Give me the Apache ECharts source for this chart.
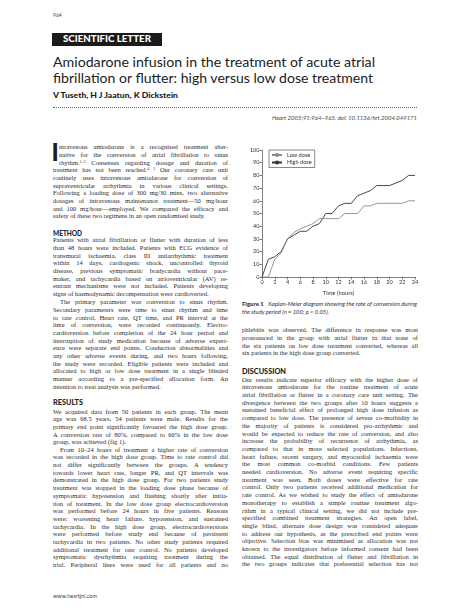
<!DOCTYPE html>
<html>
<head>
<meta charset="utf-8">
<script src="https://cdn.jsdelivr.net/npm/echarts@6/dist/echarts.min.js"></script>
<style>
  html,body{margin:0;padding:0;background:#fff;}
  #page{position:relative;width:474px;height:613px;overflow:hidden;background:#fff;color:#262626;}
  .abs{position:absolute;white-space:nowrap;}
  .sans{font-family:Lato,"Open Sans","DejaVu Sans",sans-serif;}
  .fit{display:inline-block;transform-origin:left center;}
  .l{position:absolute;white-space:nowrap;font-family:"Liberation Serif","DejaVu Serif",serif;font-size:6.5px;height:7.7px;line-height:7.7px;color:#2a2a2a;}
  .l sup{font-size:4px;line-height:0;vertical-align:2px;}
  .h{position:absolute;white-space:nowrap;font-family:Lato,"Open Sans",sans-serif;font-weight:900;font-size:7.4px;line-height:8px;color:#1e1e1e;}
  #chart{position:absolute;left:238px;top:140px;width:182px;height:160px;}
</style>
</head>
<body>
<div id="page">
  <div class="abs sans" style="left:53px;top:12px;font-size:5px;line-height:6px;color:#444;">964</div>
  <div class="abs" style="left:52px;top:33px;width:110px;height:13px;background:#1b1b1b;"></div>
  <div class="abs sans" style="left:63px;top:35px;line-height:9px;font-size:8.6px;font-weight:900;color:#fff;"><span class="fit" data-w="88">SCIENTIFIC LETTER</span></div>
  <div class="abs sans" style="left:53px;top:53px;line-height:17px;font-size:14px;color:#222;"><span class="fit" data-w="322">Amiodarone infusion in the treatment of acute atrial</span></div>
  <div class="abs sans" style="left:53px;top:69px;line-height:17px;font-size:14px;color:#222;"><span class="fit" data-w="320">fibrillation or flutter: high versus low dose treatment</span></div>
  <div class="abs sans" style="left:53px;top:91px;line-height:9px;font-size:7.4px;font-weight:900;color:#222;"><span class="fit" data-w="125">V Tuseth, H J Jaatun, K Dickstein</span></div>
  <div class="abs" style="left:53px;top:106.5px;width:364px;height:0;border-top:1px dotted #666;"></div>
  <div class="abs sans" style="left:272px;top:115px;line-height:6px;font-size:4.8px;font-style:italic;color:#444;"><span class="fit" data-w="145">Heart 2005;91:964–965. doi: 10.1136/hrt.2004.049171</span></div>

  <div class="abs sans" style="left:51.5px;top:138px;font-size:24px;line-height:28px;font-weight:900;color:#1e1e1e;">I</div>

  <div class="h" style="left:53px;top:229.5px;"><span class="fit" data-w="29">METHOD</span></div>
  <div class="h" style="left:53px;top:399px;"><span class="fit" data-w="30">RESULTS</span></div>
  <div class="h" style="left:242px;top:368px;"><span class="fit" data-w="44">DISCUSSION</span></div>

  <div id="chart"></div>

  <div class="abs sans" style="left:242px;top:301px;line-height:6px;font-size:5.2px;color:#333;"><span class="fit" data-w="175"><b style="font-weight:900">Figure 1</b>&nbsp;&nbsp;&nbsp;<i>Kaplan-Meier diagram showing the rate of conversion during</i></span></div>
  <div class="abs sans" style="left:242px;top:308.5px;line-height:6px;font-size:5.2px;color:#333;"><span class="fit" data-w="87"><i>the study period (n = 100; p &lt; 0.05).</i></span></div>

  <div class="abs sans" style="left:53px;top:593px;line-height:6px;font-size:5px;color:#444;"><span class="fit" data-w="44">www.heartjnl.com</span></div>
</div>

<script>
// ---------------- chart data ----------------
const hours     = [0,1,2,3,4,5,6,7,8,9,10,11,12,13,14,15,16,17,18,19,20,21,22,23,24];
const lowDose   = [0,0,14,19,30,35,38,40,42,46,46,46,46,50,50,50,56,56,58,58,58,58,58,60,60];
const highDose  = [0,14,16,20,30,33,36,36,40,42,50,50,56,58,58,64,66,68,72,72,72,74,76,80,80];
const seriesNames = ['Low dose','High dose'];
const xTickStep = 2;
const yTickStep = 10;
const xAxisName = 'Time (hours)';
const yAxisName = '%';

// ---------------- page text ----------------
const LX = 53, LW = 175, RX = 242, RW = 176, LH = 7.7;
const paragraphs = [
  {x:LX, w:LW, y:147, drop:3, lines:[
    'ntravenous amiodarone is a recognised treatment alter-',
    'native for the conversion of atrial fibrillation to sinus',
    'rhythm.<sup>1–3</sup> Consensus regarding dosage and duration of',
    'treatment has not been reached.<sup>4 5</sup> Our coronary care unit',
    'routinely uses intravenous amiodarone for conversion of',
    'supraventricular arrhythmia in various clinical settings.',
    'Following a loading dose of 300 mg/30 mins, two alternative',
    'dosages of intravenous maintenance treatment—50 mg/hour',
    'and 100 mg/hour—employed. We compared the efficacy and',
    'safety of these two regimens in an open randomised study.']},
  {x:LX, w:LW, y:240, lines:[
    'Patients with atrial fibrillation or flutter with duration of less',
    'than 48 hours were included. Patients with ECG evidence of',
    'transmural ischaemia, class III antiarrhythmic treatment',
    'within 14 days, cardiogenic shock, uncontrolled thyroid',
    'disease, previous symptomatic bradycardia without pace-',
    'maker, and tachycardia based on atrioventricular (AV) re-',
    'entrant mechanisms were not included. Patients developing',
    'signs of haemodynamic decompensation were cardioverted.']},
  {x:LX, w:LW, y:302, indent:true, lines:[
    'The primary parameter was conversion to sinus rhythm.',
    'Secondary parameters were time to sinus rhythm and time',
    'to rate control. Heart rate, QT time, and PR interval at the',
    'time of conversion, were recorded continuously. Electro-',
    'cardioversion before completion of the 24 hour period and',
    'interruption of study medication because of adverse experi-',
    'ence were separate end points. Conduction abnormalities and',
    'any other adverse events during, and two hours following,',
    'the study were recorded. Eligible patients were included and',
    'allocated to high or low dose treatment in a single blinded',
    'manner according to a pre-specified allocation form. An',
    'intention to treat analysis was performed.']},
  {x:LX, w:LW, y:411.5, lines:[
    'We acquired data from 50 patients in each group. The mean',
    'age was 68.5 years, 54 patients were male. Results for the',
    'primary end point significantly favoured the high dose group.',
    'A conversion rate of 80%, compared to 60% in the low dose',
    'group, was achieved (fig 1).']},
  {x:LX, w:LW, y:449.5, indent:true, noEnd:true, lines:[
    'From 10–24 hours of treatment a higher rate of conversion',
    'was recorded in the high dose group. Time to rate control did',
    'not differ significantly between the groups. A tendency',
    'towards lower heart rate, longer PR, and QT intervals was',
    'demonstrated in the high dose group. For two patients study',
    'treatment was stopped in the loading dose phase because of',
    'symptomatic hypotension and flushing shortly after initia-',
    'tion of treatment. In the low dose group electrocardioversion',
    'was performed before 24 hours in five patients. Reasons',
    'were: worsening heart failure, hypotension, and sustained',
    'tachycardia. In the high dose group, electrocardioversions',
    'were performed before study end because of persistent',
    'tachycardia in two patients. No other study patients required',
    'additional treatment for rate control. No patients developed',
    'symptomatic dysrhythmia requiring treatment during the',
    'trial. Peripheral lines were used for all patients and no']},
  {x:RX, w:RW, y:330, lines:[
    'phlebitis was observed. The difference in response was most',
    'pronounced in the group with atrial flutter in that none of',
    'the six patients on low dose treatment converted, whereas all',
    'six patients in the high dose group converted.']},
  {x:RX, w:RW, y:379.5, noEnd:true, lines:[
    'Our results indicate superior efficacy with the higher dose of',
    'intravenous amiodarone for the routine treatment of acute',
    'atrial fibrillation or flutter in a coronary care unit setting. The',
    'divergence between the two groups after 10 hours suggests a',
    'sustained beneficial effect of prolonged high dose infusion as',
    'compared to low dose. The presence of severe co-morbidity in',
    'the majority of patients is considered pro-arrhythmic and',
    'would be expected to reduce the rate of conversion, and also',
    'increase the probability of recurrence of arrhythmia, as',
    'compared to that in more selected populations. Infections,',
    'heart failure, recent surgery, and myocardial ischaemia were',
    'the most common co-morbid conditions. Few patients',
    'needed cardioversion. No adverse event requiring specific',
    'treatment was seen. Both doses were effective for rate',
    'control. Only two patients received additional medication for',
    'rate control. As we wished to study the effect of amiodarone',
    'monotherapy to establish a simple routine treatment algo-',
    'rithm in a typical clinical setting, we did not include pre-',
    'specified combined treatment strategies. An open label,',
    'single blind, alternate dose design was considered adequate',
    'to address our hypothesis, as the prescribed end points were',
    'objective. Selection bias was minimised as allocation was not',
    'known to the investigators before informed consent had been',
    'obtained. The equal distribution of flutter and fibrillation in',
    'the two groups indicates that preferential selection has not']}
];

const page = document.getElementById('page');
paragraphs.forEach(p => {
  p.lines.forEach((txt, i) => {
    const d = document.createElement('div');
    d.className = 'l';
    let x = p.x, w = p.w;
    if (p.drop && i < p.drop) { x += 6; w -= 6; }
    if (p.indent && i === 0) { x += 7; w -= 7; }
    d.style.left = x + 'px';
    d.style.top = (p.y + i * LH - LH / 2) + 'px';
    const s = document.createElement('span');
    s.innerHTML = txt;
    d.appendChild(s);
    page.appendChild(d);
    const isLast = (i === p.lines.length - 1) && !p.noEnd;
    const nat = s.getBoundingClientRect().width;
    const plain = s.textContent;
    const spaces = (plain.match(/ /g) || []).length;
    if (nat > w) {
      s.style.letterSpacing = ((w - nat) / plain.length) + 'px';
    } else if (!isLast && spaces > 0) {
      s.style.wordSpacing = ((w - nat) / spaces) + 'px';
    }
  });
});

document.querySelectorAll('.fit').forEach(el => {
  const target = parseFloat(el.dataset.w);
  const w = el.getBoundingClientRect().width;
  if (w > 0) el.style.transform = 'scaleX(' + (target / w) + ')';
});

// ---------------- chart ----------------
const chart = echarts.init(document.getElementById('chart'), null, {renderer: 'canvas'});
const axisCol = '#4a4a4a';
const font = 'Lato, "Open Sans", sans-serif';
const lowData = hours.map((h, i) => [h, lowDose[i]]);
const highData = hours.map((h, i) => [h, highDose[i]]);
chart.setOption({
  animation: false,
  grid: {left: 24, right: 5, top: 10, bottom: 23, containLabel: false, outerBoundsMode: 'none'},
  legend: {
    data: seriesNames,
    orient: 'vertical',
    left: 31, top: 10,
    padding: [2, 3, 2, 2],
    itemGap: 1.5,
    itemWidth: 10, itemHeight: 5,
    borderColor: '#555', borderWidth: 0.7,
    backgroundColor: '#fff',
    textStyle: {fontSize: 5.6, color: '#333', fontFamily: font}
  },
  xAxis: {
    type: 'value', min: 0, max: 24, interval: xTickStep,
    name: xAxisName, nameLocation: 'middle', nameGap: 12,
    nameTextStyle: {fontSize: 5.8, color: '#333', fontFamily: font},
    axisLine: {lineStyle: {color: axisCol, width: 0.7}},
    axisTick: {length: 2.5, lineStyle: {color: axisCol, width: 0.7}},
    axisLabel: {fontSize: 5.5, margin: 2.5, color: '#333', fontFamily: font},
    splitLine: {show: false}
  },
  yAxis: {
    type: 'value', min: 0, max: 100, interval: yTickStep,
    name: yAxisName, nameLocation: 'middle', nameRotate: 90, nameGap: 15,
    nameTextStyle: {fontSize: 5.8, color: '#333', fontFamily: font},
    axisLine: {show: true, lineStyle: {color: axisCol, width: 0.7}},
    axisTick: {show: true, length: 2.5, lineStyle: {color: axisCol, width: 0.7}},
    axisLabel: {fontSize: 5.5, margin: 2.5, color: '#333', fontFamily: font},
    splitLine: {show: false}
  },
  series: [
    {name: seriesNames[1], type: 'line', symbol: 'none', z: 2,
     data: highData,
     lineStyle: {color: '#333333', width: 0.9},
     itemStyle: {color: '#333333'}},
    {name: seriesNames[0], type: 'line', symbol: 'none', z: 3,
     data: lowData,
     lineStyle: {color: '#8a8a8a', width: 0.9},
     itemStyle: {color: '#8a8a8a'}}
  ]
});
</script>
</body>
</html>
